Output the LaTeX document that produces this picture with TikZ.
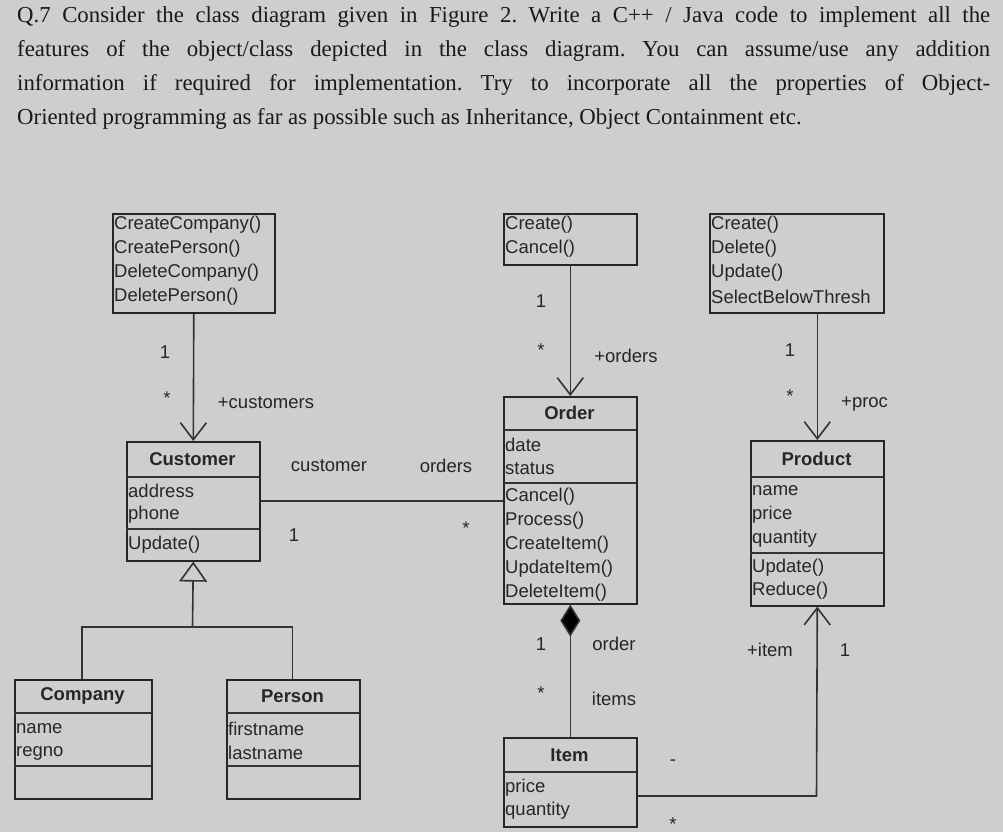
\documentclass[tikz,border=0pt]{standalone}
\usepackage{fontspec}
\setmainfont{Liberation Serif}
\newfontfamily\dsans{Liberation Sans}
\usetikzlibrary{arrows.meta}
\definecolor{bg}{HTML}{CECECE}
\frenchspacing
\begin{document}
\begin{tikzpicture}[x=1pt,y=-1pt,
  box/.style={draw=black!85,line width=1.6pt,inner sep=0pt,anchor=north west},
  t/.style={anchor=west,inner sep=1pt,font=\dsans\fontsize{18.5}{20}\selectfont,text=black!85},
  b/.style={anchor=center,inner sep=1pt,font=\dsans\bfseries\fontsize{18.5}{20}\selectfont,text=black!85},
  ln/.style={draw=black!80,line width=1.6pt},
  vee/.style={-{Straight Barb[length=17pt,width=26pt,line width=1.6pt]}},
]
\fill[bg] (0,0) rectangle (1003,832);
\useasboundingbox (0,0) rectangle (1003,832);
\node[anchor=north west,inner sep=0pt,text=black!90] (q) at (17,6) {\parbox{973pt}{\fontsize{22.8}{34}\selectfont
Q.7 Consider the class diagram given in Figure 2. Write a C++ / Java code to implement all the\linebreak
features of the object/class depicted in the class diagram. You can assume/use any addition\linebreak
information if required for implementation. Try to incorporate all the properties of Object-\linebreak
Oriented programming as far as possible such as Inheritance, Object Containment etc.}};

% boxes
\node[box,minimum width=162pt,minimum height=99pt] (cc) at (112,213) {};
\node[box,minimum width=133pt,minimum height=51pt] (oc) at (503,213) {};
\node[box,minimum width=174pt,minimum height=99pt] (pc) at (709,213) {};
\node[box,minimum width=133pt,minimum height=119pt] (cust) at (126,441) {};
\node[box,minimum width=133pt,minimum height=207pt] (ord) at (503,396) {};
\node[box,minimum width=133pt,minimum height=165pt] (prod) at (750,440) {};
\node[box,minimum width=137pt,minimum height=119pt] (comp) at (14,679) {};
\node[box,minimum width=133pt,minimum height=119pt] (pers) at (226,679) {};
\node[box,minimum width=133pt,minimum height=89pt] (item) at (503,737) {};
% dividers
\draw[ln] (126,477)--(259,477) (126,529)--(259,529);
\draw[ln] (503,430)--(636,430) (503,483)--(636,483);
\draw[ln] (750,477)--(883,477) (750,553)--(883,553);
\draw[ln] (14,713)--(151,713) (14,766)--(151,766);
\draw[ln] (226,713)--(359,713) (226,766)--(359,766);
\draw[ln] (503,772)--(636,772);

% texts
\node[t] (t1) at (113,225) {CreateCompany()};
\node[t] (t2) at (113,249) {CreatePerson()};
\node[t] (t3) at (113,273) {DeleteCompany()};
\node[t] (t4) at (113,297) {DeletePerson()};
\node[t] (t5) at (504,225) {Create()};
\node[t] (t6) at (504,249) {Cancel()};
\node[t] (t7) at (710,225) {Create()};
\node[t] (t8) at (710,249) {Delete()};
\node[t] (t9) at (710,273) {Update()};
\node[t] (t10) at (710,297) {SelectBelowThresh};
\node[b] (n1) at (192.5,459) {Customer};
\node[t] (t11) at (127,491) {address};
\node[t] (t12) at (127,515) {phone};
\node[t] (t13) at (127,545) {Update()};
\node[b] (n2) at (569.5,413) {Order};
\node[t] (t14) at (504,445) {date};
\node[t] (t15) at (504,469) {status};
\node[t] (t16) at (504,497) {Cancel()};
\node[t] (t17) at (504,521) {Process()};
\node[t] (t18) at (504,545) {CreateItem()};
\node[t] (t19) at (504,569) {UpdateItem()};
\node[t] (t20) at (504,593) {DeleteItem()};
\node[b] (n3) at (816.5,459) {Product};
\node[t] (t21) at (751,491) {name};
\node[t] (t22) at (751,515) {price};
\node[t] (t23) at (751,539) {quantity};
\node[t] (t24) at (751,568) {Update()};
\node[t] (t25) at (751,591) {Reduce()};
\node[b] (n4) at (82.5,696) {Company};
\node[t] (t26) at (15,729) {name};
\node[t] (t27) at (15,753) {regno};
\node[b] (n5) at (292.5,696) {Person};
\node[t] (t28) at (227,729) {firstname};
\node[t] (t29) at (227,753) {lastname};
\node[b] (n6) at (569.5,755) {Item};
\node[t] (t30) at (504,788) {price};
\node[t] (t31) at (504,811) {quantity};

% connector labels
\node[t,anchor=center] (l1) at (165,352) {1};
\node[t,anchor=center] (l2) at (167,398) {*};
\node[t,anchor=center] (l3) at (266,403) {+customers};
\node[t,anchor=center] (l4) at (329,466) {customer};
\node[t,anchor=center] (l5) at (446,466) {orders};
\node[t,anchor=center] (l6) at (294,535) {1};
\node[t,anchor=center] (l7) at (466,528) {*};
\node[t,anchor=center] (l8) at (541,301) {1};
\node[t,anchor=center] (l9) at (541,350) {*};
\node[t,anchor=center] (l10) at (626,356) {+orders};
\node[t,anchor=center] (l11) at (790,350) {1};
\node[t,anchor=center] (l12) at (790,396) {*};
\node[t,anchor=west] (l13) at (840,404) {+proc};
\node[t,anchor=center] (l14) at (541,644) {1};
\node[t,anchor=center] (l15) at (614,644) {order};
\node[t,anchor=center] (l16) at (541,693) {*};
\node[t,anchor=center] (l17) at (614,699) {items};
\node[t,anchor=center] (l18) at (673,763) {-};
\node[t,anchor=center] (l19) at (770,650) {+item};
\node[t,anchor=center] (l20) at (845,650) {1};
\node[t,anchor=center] (l21) at (673,824) {*};

% connectors
\draw[ln,vee] (cc.south) -- (cust.north);
\draw[ln,vee] (oc.south) -- (ord.north);
\draw[ln,vee] (pc.south -| prod.north) -- (prod.north);
\draw[ln] (cust.east |- 0,501) -- (ord.west |- 0,501);
\coordinate (tb) at (192.5,627);
\draw[ln,-{Triangle[open,length=20pt,width=28pt,line width=1.6pt,fill=bg]}] (tb) -- (cust.south);
\draw[ln] (comp.north -| 82,0) |- (tb) -| (pers.north -| 292.5,0);
\draw[ln,{Diamond[length=32pt,width=20pt,fill=black]}-] (ord.south) -- (item.north);
\coordinate (ic) at (816.5,796);
\draw[ln,vee] (item.east |- ic) -- (ic) -- (prod.south);
\end{tikzpicture}
\end{document}
